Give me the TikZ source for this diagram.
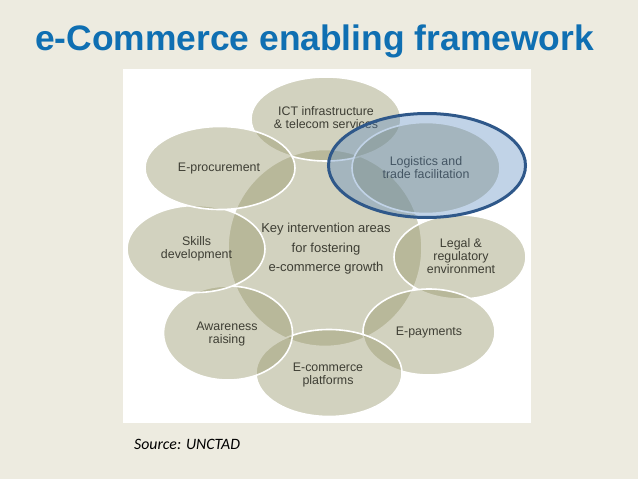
\documentclass[tikz,border=0pt]{standalone}
\usepackage{fontspec}
\setmainfont{Liberation Sans}
\newfontfamily\sourcefont{Carlito}
\usetikzlibrary{shapes.geometric}
\definecolor{slidebg}{RGB}{237,235,224}
\definecolor{titleblue}{RGB}{15,111,178}
\definecolor{petal}{RGB}{150,149,104}
\definecolor{labelgrey}{RGB}{62,62,52}
\definecolor{lensfill}{RGB}{79,129,189}
\definecolor{lensedge}{RGB}{47,88,138}
\tikzset{
  petalshape/.style={ellipse,inner sep=0pt,fill=petal,fill opacity=0.42,draw=white,draw opacity=1,line width=1.6pt},
  lbl/.style={align=center,text=labelgrey,inner sep=0pt,font=\fontsize{12.4}{#1}\selectfont},
  lbl/.default=13
}
\newcommand{\petalat}[5]{\node[petalshape,minimum width=#4pt,minimum height=#5pt] (#1) at (#2,#3) {};}
\begin{document}
\begin{tikzpicture}[x=1pt,y=-1pt]
\useasboundingbox (0,0) rectangle (638,479);
\fill[slidebg] (0,0) rectangle (638,479);
\fill[white] (123,69) rectangle (531,423);
\node[font=\fontsize{35.4}{40}\bfseries\selectfont,text=titleblue,inner sep=0pt] (title) at (314.5,41) {e-Commerce enabling framework};
\petalat{core}{325}{248}{194}{197}
\petalat{ict}{326}{119}{150}{84}
\petalat{logi}{426}{168}{148}{91}
\petalat{legal}{460}{257}{132}{84}
\petalat{pay}{429}{332}{132}{86}
\petalat{plat}{329}{373}{146}{87}
\petalat{aware}{228}{333}{129}{94}
\petalat{skills}{196}{249}{138}{87}
\petalat{eproc}{220}{168}{150}{83}
\node[lbl] (ictt) at (326,118) {ICT infrastructure\\\& telecom services};
\node[lbl] (logit) at (426,168) {Logistics and\\trade facilitation};
\node[lbl=12.6] (legalt) at (461,256) {Legal \&\\regulatory\\environment};
\node[lbl] (payt) at (429,333) {E-payments};
\node[lbl] (platt) at (328,375) {E-commerce\\platforms};
\node[lbl] (awaret) at (227,334) {Awareness\\raising};
\node[lbl] (skillst) at (196.5,249) {Skills\\development};
\node[lbl] (eproct) at (219,169) {E-procurement};
\node[lbl=19.5,font=\fontsize{13}{19.5}\selectfont] (coret) at (326,249) {Key intervention areas\\for fostering\\e-commerce growth};
\node[ellipse,inner sep=0pt,minimum width=197pt,minimum height=104pt,fill=lensfill,fill opacity=0.35,draw=lensedge,draw opacity=1,line width=3pt] (lens) at (427,165.5) {};
\node[font=\sourcefont\itshape\fontsize{15.8}{18}\selectfont,text=black,inner sep=0pt,anchor=west] (src) at (134,444) {Source: UNCTAD};
\end{tikzpicture}
\end{document}
